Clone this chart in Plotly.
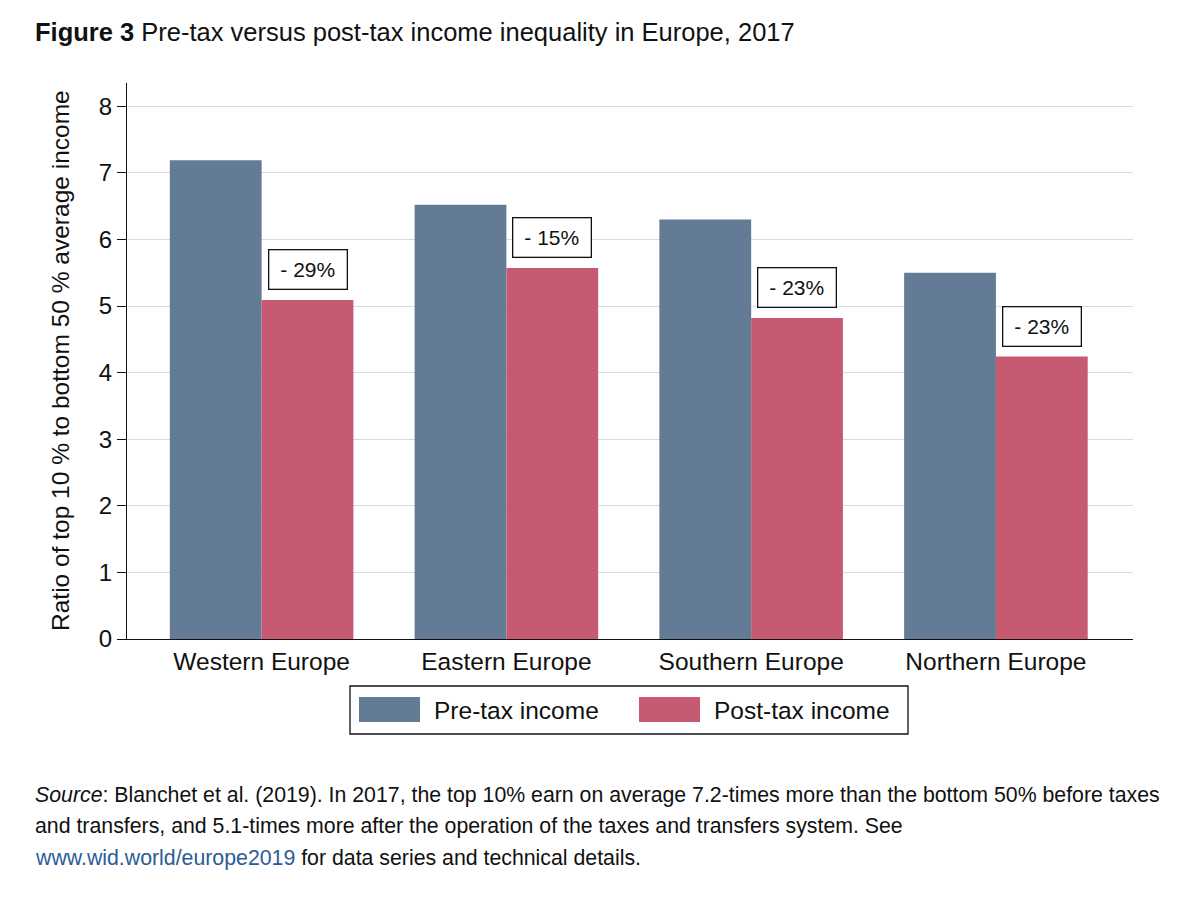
import plotly.graph_objects as go

regions = ["Western Europe", "Eastern Europe", "Southern Europe", "Northern Europe"]
pre_tax = [7.19, 6.52, 6.30, 5.50]
post_tax = [5.09, 5.57, 4.82, 4.24]
change_labels = ["- 29%", "- 15%", "- 23%", "- 23%"]
series_names = ["Pre-tax income", "Post-tax income"]
y_ticks = [0, 1, 2, 3, 4, 5, 6, 7, 8]

PRE_COL = "#637b95"
POST_COL = "#c55a71"
FONT = "Liberation Sans, Arial, Helvetica, sans-serif"

W, H = 1200, 898
L, R, T, B = 127, 1133, 83, 639  # plot area in pixels


def px(x):
    return (x - L) / (R - L)


def py(y):
    return (B - y) / (B - T)


xi = list(range(len(regions)))

fig = go.Figure()
fig.add_trace(go.Bar(x=xi, y=pre_tax, name=series_names[0], marker_color=PRE_COL,
                     marker_line_width=0, showlegend=False))
fig.add_trace(go.Bar(x=xi, y=post_tax, name=series_names[1], marker_color=POST_COL,
                     marker_line_width=0, showlegend=False))

annotations = []
# percentage-change boxes above post-tax bars
for i, (v, lab) in enumerate(zip(post_tax, change_labels)):
    annotations.append(dict(
        x=i + 0.1875, y=v, xref="x", yref="y", text=lab, showarrow=False,
        yanchor="bottom", yshift=10, font=dict(family=FONT, size=21, color="#111"),
        bordercolor="#111", borderwidth=1.3, bgcolor="white", width=75, height=36,
    ))

# y axis title
annotations.append(dict(
    x=px(60), y=py(361), xref="paper", yref="paper", textangle=-90,
    text="Ratio of top 10 % to bottom 50 % average income", showarrow=False,
    font=dict(family=FONT, size=24.5, color="#111"), xanchor="center", yanchor="middle"))

# title
annotations.append(dict(
    x=px(33), y=py(32), xref="paper", yref="paper", xanchor="left", yanchor="middle",
    text="<b>Figure 3</b> Pre-tax versus post-tax income inequality in Europe, 2017",
    showarrow=False, font=dict(family=FONT, size=25.5, color="#111")))

# source lines
src_lines = [
    "<i>Source</i>: Blanchet et al. (2019). In 2017, the top 10% earn on average 7.2-times more than the bottom 50% before taxes",
    "and transfers, and 5.1-times more after the operation of the taxes and transfers system. See",
    "<span style='color:#2b5c97'>www.wid.world/europe2019</span> for data series and technical details.",
]
for line, yy in zip(src_lines, [795, 826, 858]):
    annotations.append(dict(
        x=px(33), y=py(yy), xref="paper", yref="paper", xanchor="left", yanchor="middle",
        text=line, showarrow=False, font=dict(family=FONT, size=21.3, color="#111")))

# custom legend
shapes = [dict(type="rect", xref="paper", yref="paper", x0=px(350), x1=px(908),
               y0=py(734), y1=py(686), line=dict(color="#111", width=1.3), fillcolor="white")]
legend_items = [(series_names[0], PRE_COL, 359, 420, 432), (series_names[1], POST_COL, 639, 700, 712)]
for name, col, sx0, sx1, tx in legend_items:
    shapes.append(dict(type="rect", xref="paper", yref="paper", x0=px(sx0), x1=px(sx1),
                       y0=py(722), y1=py(697), line=dict(width=0), fillcolor=col))
    annotations.append(dict(x=px(tx), y=py(710), xref="paper", yref="paper", xanchor="left",
                            yanchor="middle", text=name, showarrow=False,
                            font=dict(family=FONT, size=24.5, color="#111")))

fig.update_layout(
    width=W, height=H,
    margin=dict(l=L, r=W - R, t=T, b=H - B, autoexpand=False),
    paper_bgcolor="white", plot_bgcolor="white",
    barmode="group", bargap=0.25, bargroupgap=0,
    showlegend=False,
    font=dict(family=FONT, color="#111"),
    annotations=annotations, shapes=shapes,
    xaxis=dict(range=[-0.55, 3.56], tickmode="array", tickvals=xi, ticktext=regions,
               showline=True, linecolor="#111", linewidth=1.3, ticks="", showgrid=False,
               tickfont=dict(family=FONT, size=24.5, color="#111"), zeroline=False),
    yaxis=dict(range=[0, (B - T) / 66.6], tickmode="array", tickvals=y_ticks,
               showline=True, linecolor="#111", linewidth=1.3, ticks="outside", ticklen=9,
               tickcolor="#111", tickwidth=1.3, showgrid=True, gridcolor="#dadada",
               gridwidth=1.2, zeroline=False,
               tickfont=dict(family=FONT, size=24, color="#111")),
)

fig.write_html("out.html")
